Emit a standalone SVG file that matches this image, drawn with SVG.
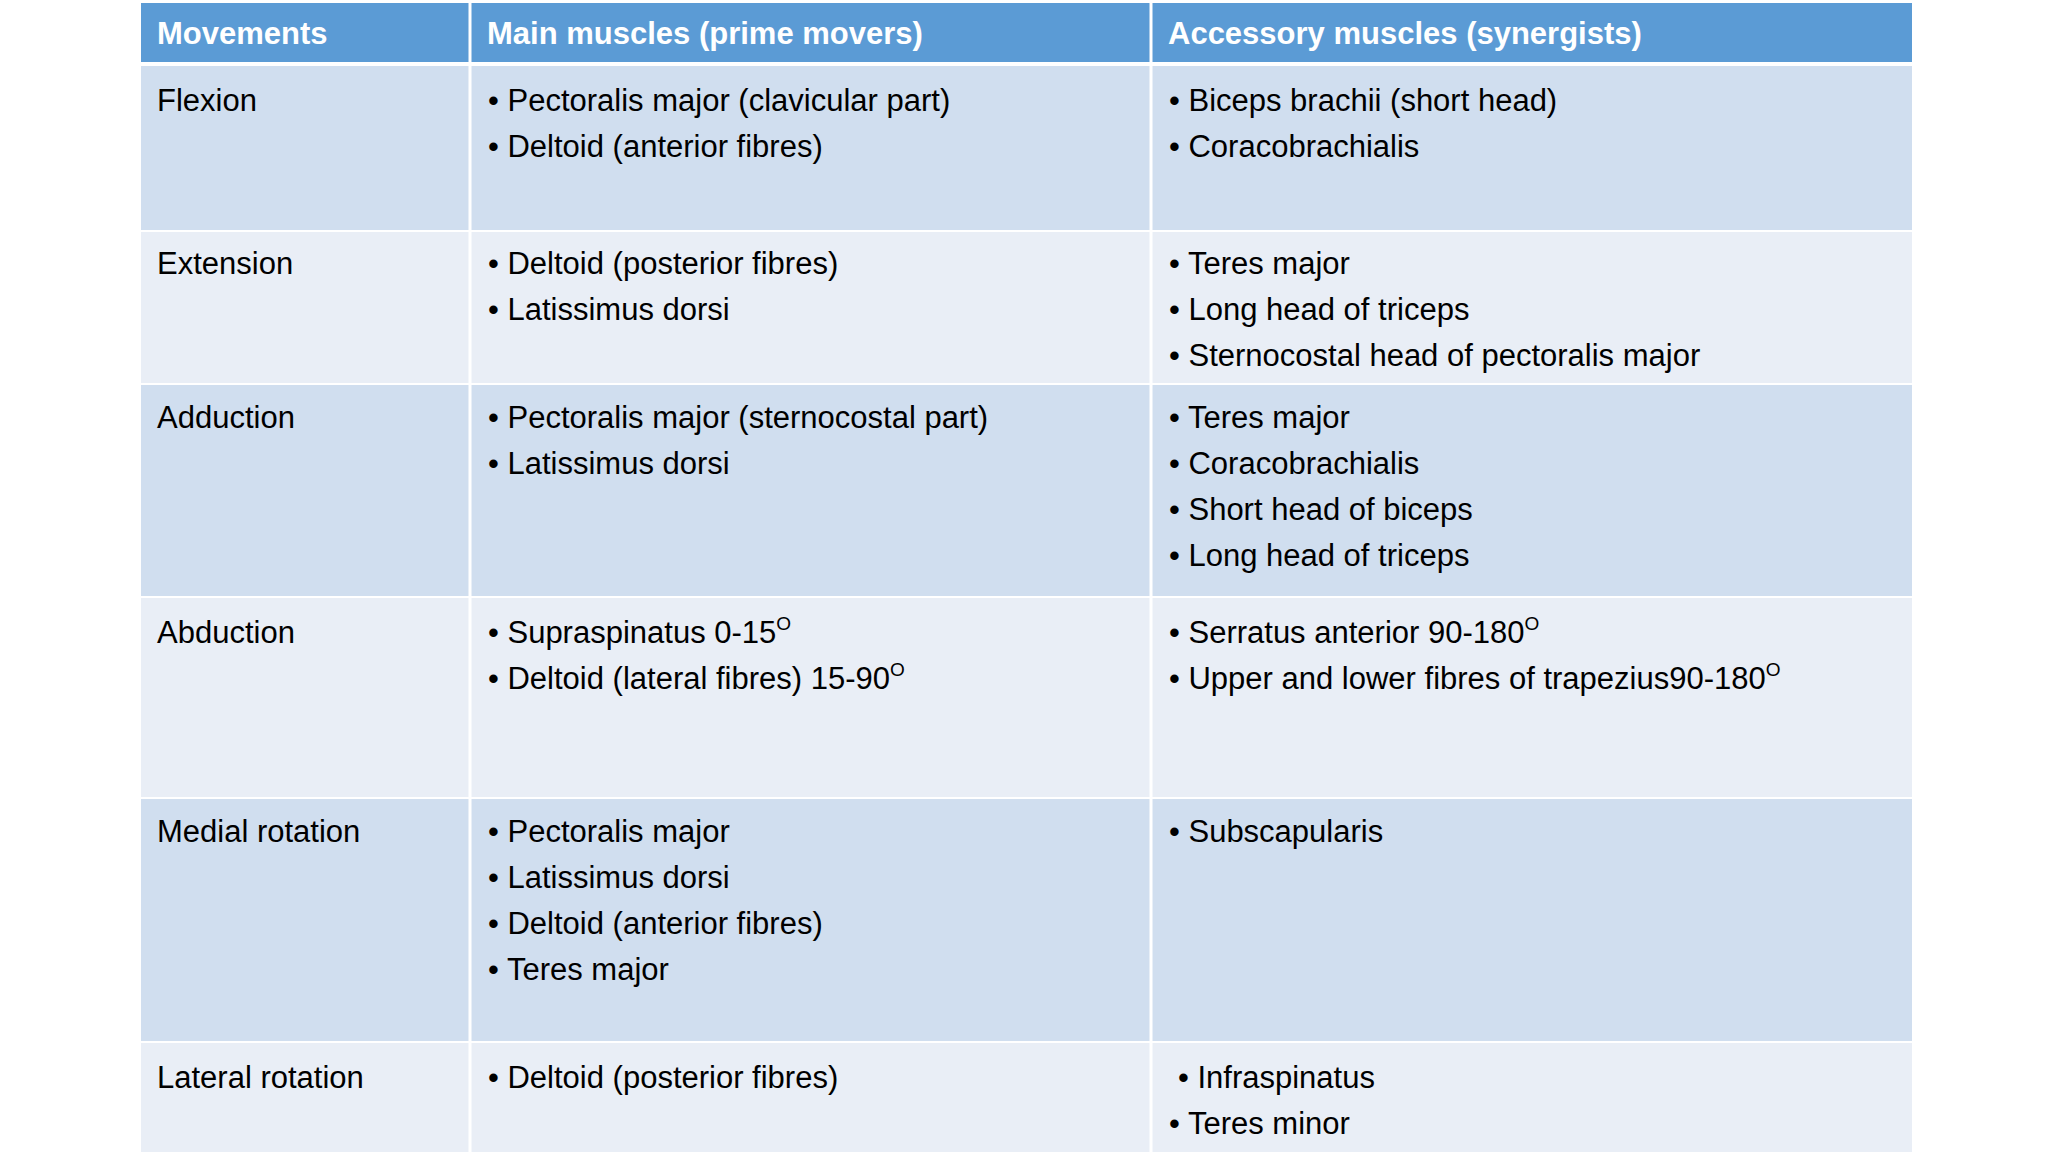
<svg xmlns="http://www.w3.org/2000/svg" width="2048" height="1152" viewBox="0 0 2048 1152">
<style>
text{font-family:"Liberation Sans",Arial,sans-serif;font-size:31px;fill:#000}
.h{fill:#fff;font-weight:bold}
.d{fill:#D0DEEF}.l{fill:#E9EEF6}
.s{font-size:19px}
</style>
<rect width="2048" height="1152" fill="#fff"/>
<g id="header"><rect x="141" y="3" width="1771" height="60" fill="#5B9BD5"/>
<text class="h" x="157" y="44">Movements</text><text class="h" x="487" y="44">Main muscles (prime movers)</text><text class="h" x="1168" y="44">Accessory muscles (synergists)</text></g>
<g id="rows">
<rect class="d" x="141" y="66" width="1771" height="164"/>
<rect class="l" x="141" y="232" width="1771" height="151"/>
<rect class="d" x="141" y="385" width="1771" height="211"/>
<rect class="l" x="141" y="598" width="1771" height="199"/>
<rect class="d" x="141" y="799" width="1771" height="242"/>
<rect class="l" x="141" y="1043" width="1771" height="109"/>
</g>
<g id="grid" stroke="#fff" stroke-width="3"><line x1="470" y1="0" x2="470" y2="1152"/><line x1="1151" y1="0" x2="1151" y2="1152"/><line x1="141" y1="64" x2="1912" y2="64" stroke-width="4"/></g>
<g id="col1"><text x="157" y="111">Flexion</text><text x="157" y="274">Extension</text><text x="157" y="428">Adduction</text><text x="157" y="643">Abduction</text><text x="157" y="842">Medial rotation</text><text x="157" y="1088">Lateral rotation</text></g>
<g id="col2">
<text x="488" y="111">• Pectoralis major (clavicular part)</text><text x="488" y="157">• Deltoid (anterior fibres)</text>
<text x="488" y="274">• Deltoid (posterior fibres)</text><text x="488" y="320">• Latissimus dorsi</text>
<text x="488" y="428">• Pectoralis major (sternocostal part)</text><text x="488" y="474">• Latissimus dorsi</text>
<text x="488" y="643">• Supraspinatus 0-15<tspan class="s" dy="-13">O</tspan></text><text x="488" y="689">• Deltoid (lateral fibres) 15-90<tspan class="s" dy="-13">O</tspan></text>
<text x="488" y="842">• Pectoralis major</text><text x="488" y="888">• Latissimus dorsi</text><text x="488" y="934">• Deltoid (anterior fibres)</text><text x="488" y="980">• Teres major</text>
<text x="488" y="1088">• Deltoid (posterior fibres)</text></g>
<g id="col3">
<text x="1169" y="111">• Biceps brachii (short head)</text><text x="1169" y="157">• Coracobrachialis</text>
<text x="1169" y="274">• Teres major</text><text x="1169" y="320">• Long head of triceps</text><text x="1169" y="366">• Sternocostal head of pectoralis major</text>
<text x="1169" y="428">• Teres major</text><text x="1169" y="474">• Coracobrachialis</text><text x="1169" y="520">• Short head of biceps</text><text x="1169" y="566">• Long head of triceps</text>
<text x="1169" y="643">• Serratus anterior 90-180<tspan class="s" dy="-13">O</tspan></text><text x="1169" y="689">• Upper and lower fibres of trapezius90-180<tspan class="s" dy="-13">O</tspan></text>
<text x="1169" y="842">• Subscapularis</text>
<text x="1178" y="1088">• Infraspinatus</text><text x="1169" y="1134">• Teres minor</text></g>
</svg>
